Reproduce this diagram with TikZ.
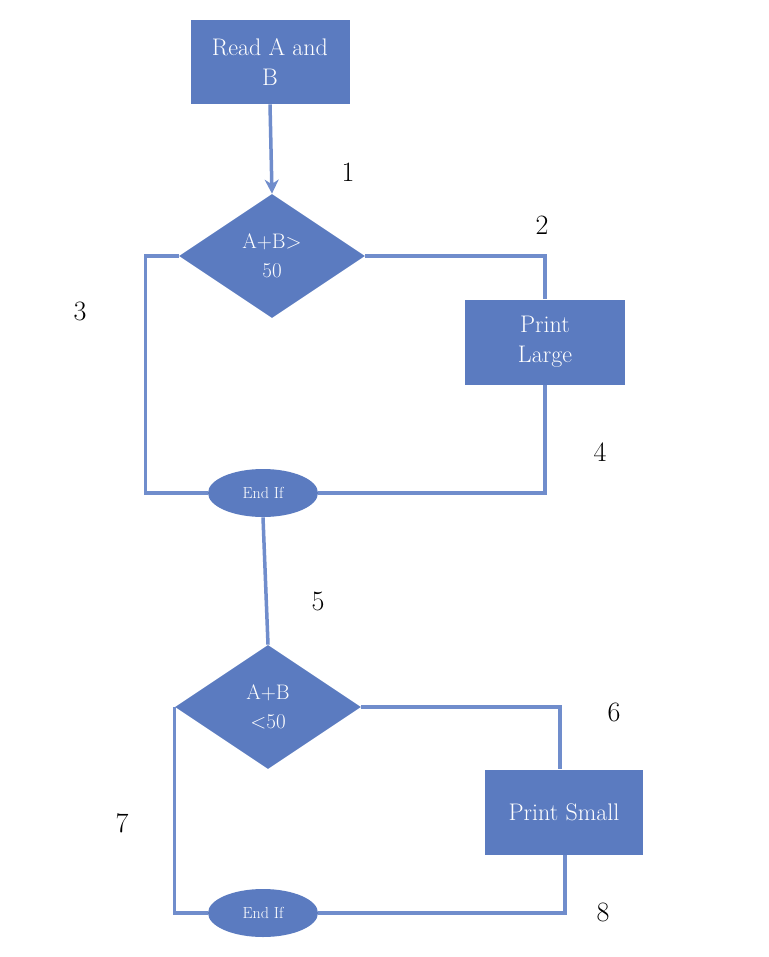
\documentclass[tikz,border=0pt]{standalone}
\usetikzlibrary{shapes.geometric,arrows.meta}
\definecolor{boxblue}{RGB}{91,123,192}
\definecolor{lineblue}{RGB}{112,141,204}
\tikzset{every picture/.style={line width=0.75pt}}
\tikzset{
  stepbox/.style={draw=none,fill=boxblue,text=white,minimum width=159pt,minimum height=84pt,align=center,font=\fontsize{24}{30}\selectfont,inner sep=2pt},
  testbox/.style={diamond,draw=none,fill=boxblue,text=white,minimum width=186pt,minimum height=124pt,aspect=1.5,align=center,font=\fontsize{21}{29}\selectfont,inner sep=0pt},
  endbox/.style={ellipse,draw=none,fill=boxblue,text=white,minimum width=110pt,minimum height=48pt,font=\fontsize{16}{18}\selectfont,inner sep=0pt},
  wire/.style={draw=lineblue,line width=3.5pt},
  numlabel/.style={font=\fontsize{28}{32}\selectfont}
}
\begin{document}
\begin{tikzpicture}[x=1pt,y=-1pt]
	\useasboundingbox[fill=white] (0,0) rectangle (768,957);

	% boxes
	\node[stepbox] (read) at (270,62) {Read A and\\B};
	\node[testbox] (testA) at (272,256) {A+B>\\50};
	\node[stepbox,minimum width=160pt,minimum height=85pt] (large) at (545,342) {Print\\Large};
	\node[endbox] (endA) at (263,493) {End If};
	\node[testbox] (testB) at (268,707) {A+B\\<50};
	\node[stepbox,minimum width=158pt,minimum height=85pt] (small) at (564,812) {Print Small};
	\node[endbox] (endB) at (263,913) {End If};

	% connectors
	\draw[wire,-{Stealth[length=14pt,width=14pt]}] (read.south) -- (testA.north);
	\draw[wire] (testA.east) -| (large.north);
	\draw[wire] (large.south) |- (endA.east);
	\draw[wire] (testA.west) -- ++(-33,0) |- (endA.west);
	\draw[wire] (endA.south) -- (testB.north);
	\draw[wire] (testB.east) -| ([xshift=-4pt]small.north);
	\draw[wire] ([xshift=1pt]small.south) |- (endB.east);
	\draw[wire] (testB.west) -- ++(0,0) |- (endB.west);

	% path numbers
	\node[numlabel] (n1) at (348,172) {1};
	\node[numlabel] (n2) at (542,225) {2};
	\node[numlabel] (n3) at (80,311) {3};
	\node[numlabel] (n4) at (600,452) {4};
	\node[numlabel] (n5) at (318,601) {5};
	\node[numlabel] (n6) at (614,712) {6};
	\node[numlabel] (n7) at (122,823) {7};
	\node[numlabel] (n8) at (603,912) {8};

\end{tikzpicture}
\end{document}
